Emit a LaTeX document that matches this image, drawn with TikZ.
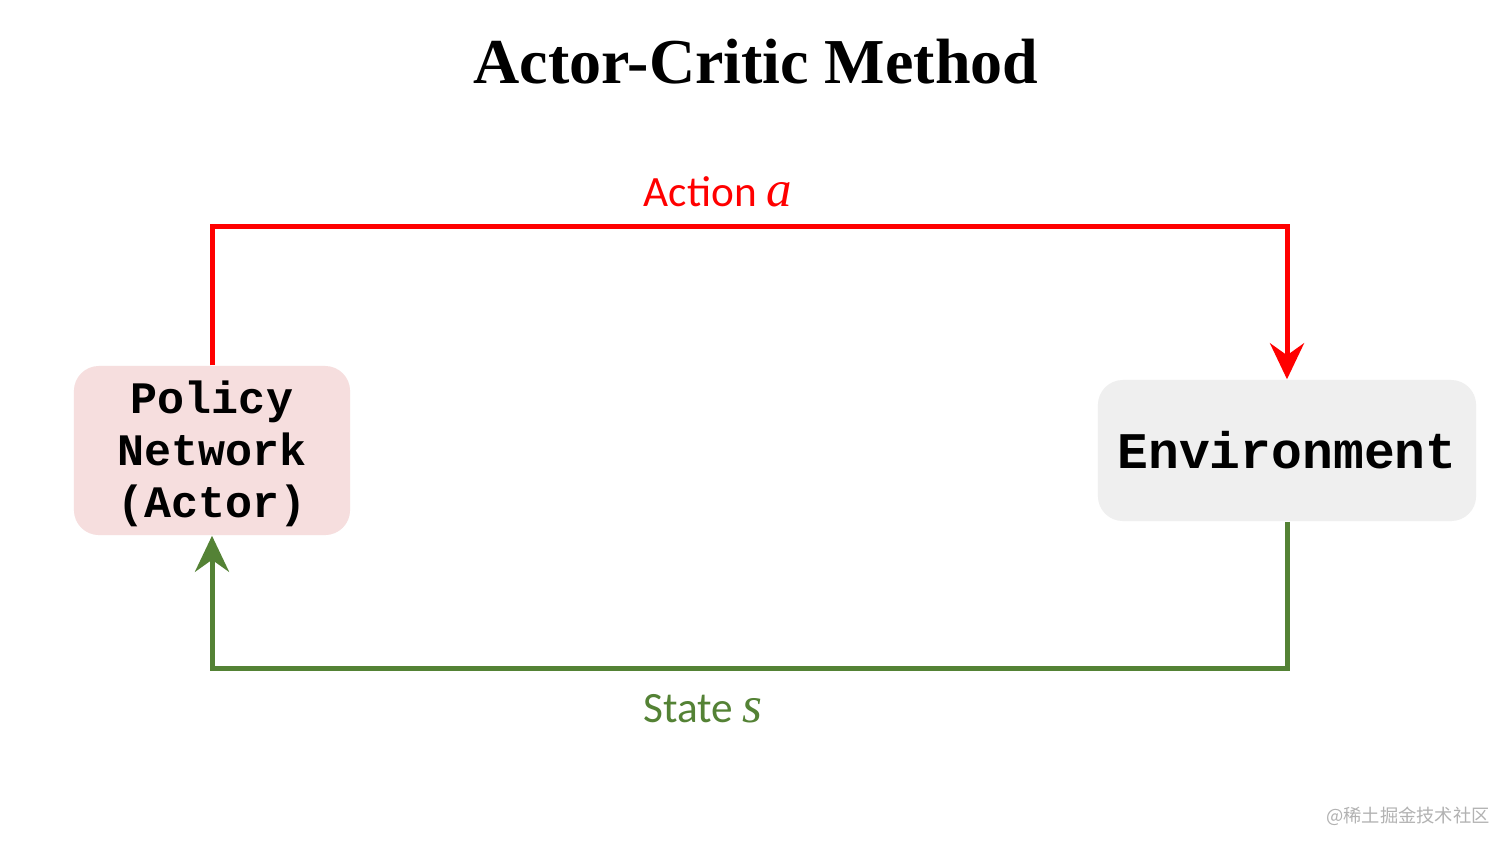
\documentclass[tikz,border=0pt]{standalone}
\usepackage{fontspec}
\setmainfont{Liberation Serif}
\setsansfont{Carlito}
\setmonofont{Liberation Mono}
\newfontfamily\cjk{Noto Sans CJK SC}
\usetikzlibrary{arrows.meta,positioning}
\definecolor{actionred}{HTML}{FF0000}
\definecolor{stategreen}{HTML}{548235}
\definecolor{actorpink}{HTML}{F6DEDE}
\definecolor{envgray}{HTML}{EFEFEF}
\newcommand{\flowvar}[1]{{\rmfamily\itshape\fontsize{14.5}{15}\selectfont #1}}
\tikzset{
	agentbox/.style={rounded corners=0.25cm,inner sep=0pt,align=center,
		font=\ttfamily\bfseries\fontsize{14.6}{14.8}\selectfont},
	flow/.style={line width=0.05cm,
		-{Stealth[length=0.36cm,width=0.34cm,inset=0.12cm]}},
	flowlabel/.style={font=\sffamily\fontsize{12.3}{14}\selectfont}
}
\begin{document}
\begin{tikzpicture}[x=0.01cm,y=-0.01cm]
	\useasboundingbox[fill=white] (0,0) rectangle (1512,850);
	% title
	\node[font=\bfseries\fontsize{18.2}{22}\selectfont] (title) at (756,62) {Actor-Critic Method};
	% boxes
	\node[agentbox,fill=actorpink,minimum width=2.76cm,minimum height=1.69cm,
		font=\ttfamily\bfseries\fontsize{12.8}{14.8}\selectfont,text depth=0.03cm] (actor) at (212,450.5) {Policy\\Network\\(Actor)};
	\node[agentbox,fill=envgray,minimum width=3.78cm,minimum height=1.41cm] (env) at (1287,450.5) {Environment};
	% corners of the loop
	\coordinate (top) at (750,226);
	\coordinate (bottom) at (750,668);
	\draw[flow,actionred] (actor.north) |- (top) -| (env.north);
	\draw[flow,stategreen] (env.south) |- (bottom) -| (actor.south);
	% labels
	\node[flowlabel,text=actionred] (action) at (718,192) {Action \flowvar{a}};
	\node[flowlabel,text=stategreen] (state) at (703,709) {State \flowvar{s}};
	\node[font=\cjk\fontsize{5.2}{6}\selectfont,text=black!30] (mark) at (1408,816) {@稀土掘金技术社区};
\end{tikzpicture}
\end{document}
